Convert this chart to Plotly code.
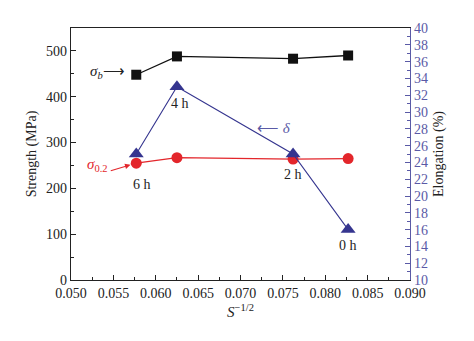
import plotly.graph_objects as go

# Grain-size parameter S^-1/2 for each ageing time
s_inv_sqrt = [0.0577, 0.0625, 0.0762, 0.0827]
time_labels = ["6 h", "4 h", "2 h", "0 h"]
label_dx = [6, 3, 0, 0]
label_dy = [-30, -17, -20, -16]

# Tensile strength (MPa), yield strength (MPa), elongation (%)
sigma_b = [448, 488, 483, 490]
sigma_02 = [255, 267, 264, 265]
elongation = [25, 33, 25, 16]

FONT = "Liberation Serif"
BLUE = "#35358f"
AXBLUE = "#5a5aa6"
RED = "#e3262b"

fig = go.Figure()
fig.add_trace(go.Scatter(x=s_inv_sqrt, y=sigma_b, mode="lines+markers",
                         line=dict(color="#111111", width=1.3),
                         marker=dict(symbol="square", size=10, color="#111111"),
                         showlegend=False))
fig.add_trace(go.Scatter(x=s_inv_sqrt, y=sigma_02, mode="lines+markers",
                         line=dict(color=RED, width=1.3),
                         marker=dict(symbol="circle", size=11, color=RED),
                         showlegend=False))
fig.add_trace(go.Scatter(x=s_inv_sqrt, y=elongation, mode="lines+markers",
                         yaxis="y2",
                         line=dict(color=BLUE, width=1.1),
                         marker=dict(symbol="triangle-up", size=13, color=BLUE),
                         showlegend=False))

tick_font = dict(family=FONT, size=14, color="#222222")

fig.update_layout(
    width=474, height=341,
    margin=dict(l=71, r=64, t=28, b=61),
    paper_bgcolor="white", plot_bgcolor="white",
    font=dict(family=FONT, size=14, color="#222222"),
    xaxis=dict(range=[0.050, 0.090], tick0=0.050, dtick=0.005, tickformat=".3f",
               ticks="inside", ticklen=5, tickcolor="#222222",
               minor=dict(ticks="inside", ticklen=3, dtick=0.0025, tickcolor="#222222"),
               showline=True, linecolor="#222222", linewidth=1.2, mirror=True,
               showgrid=False, zeroline=False, tickfont=tick_font,
               title=dict(text="<i>S</i><sup>−1/2</sup>", standoff=6,
                          font=dict(family=FONT, size=15))),
    yaxis=dict(range=[0, 550], dtick=100, ticks="inside", ticklen=5,
               tickcolor="#222222",
               minor=dict(ticks="inside", ticklen=3, dtick=50, tickcolor="#222222"),
               showline=True, linecolor="#222222", linewidth=1.2,
               showgrid=False, zeroline=False, tickfont=tick_font,
               title=dict(text="Strength (MPa)", standoff=6,
                          font=dict(family=FONT, size=14))),
    yaxis2=dict(range=[10, 40], dtick=2, overlaying="y", side="right",
                ticks="inside", ticklen=5, tickcolor=AXBLUE,
                minor=dict(ticks="inside", ticklen=3, dtick=1, tickcolor=AXBLUE),
                showline=True, linecolor=AXBLUE, linewidth=1.2,
                showgrid=False, zeroline=False,
                tickfont=dict(family=FONT, size=14, color=AXBLUE),
                title=dict(text="Elongation (%)", standoff=6,
                           font=dict(family=FONT, size=14, color="#222222"))),
)

# Ageing-time labels beneath the elongation markers
for x, y, lab, dx, dy in zip(s_inv_sqrt, elongation, time_labels, label_dx, label_dy):
    fig.add_annotation(x=x, y=y, yref="y2", text=lab, showarrow=False,
                       xshift=dx, yshift=dy,
                       font=dict(family=FONT, size=14, color="#222222"))

# Series labels
fig.add_annotation(x=s_inv_sqrt[0], y=sigma_b[0], text="<i>σ<sub>b</sub></i>⟶",
                   showarrow=False, xanchor="right", xshift=-9, yshift=3,
                   font=dict(family=FONT, size=15, color="#222222"))
fig.add_annotation(x=s_inv_sqrt[2], y=(elongation[1] + elongation[2]) / 2, yref="y2",
                   text="⟵ <i>δ</i>", showarrow=False, xanchor="right",
                   xshift=0, yshift=-8,
                   font=dict(family=FONT, size=15, color=AXBLUE))
fig.add_annotation(x=s_inv_sqrt[0], y=sigma_02[0], text="", showarrow=True,
                   arrowhead=2, arrowsize=1, arrowwidth=1.1, arrowcolor=RED,
                   standoff=6, ax=-27, ay=8)
fig.add_annotation(x=s_inv_sqrt[0], y=sigma_02[0], text="<i>σ</i><sub>0.2</sub>",
                   showarrow=False, xanchor="right", xshift=-26, yshift=-2,
                   font=dict(family=FONT, size=15, color=RED))

fig.write_html("out.html")
